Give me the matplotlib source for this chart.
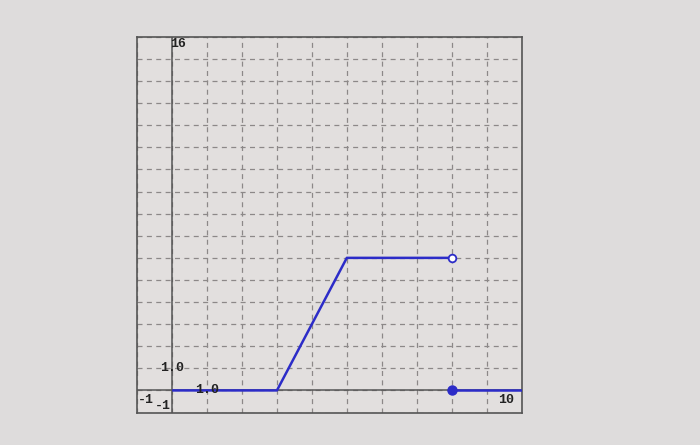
import matplotlib
matplotlib.use("Agg")
import matplotlib.pyplot as plt

# Data
piece1_x = [0, 3, 5, 8]
piece1_y = [0, 0, 6, 6]
piece2_x = [8, 10]
piece2_y = [0, 0]
open_pt = (8, 6)
closed_pt = (8, 0)
x_range = (-1, 10)
y_range = (-1, 16)

fig = plt.figure(figsize=(7, 4.45), dpi=100)
fig.patch.set_facecolor("#dedcdc")
ax = fig.add_axes([0.196, 0.073, 0.549, 0.844])
ax.set_facecolor("#e2dfde")
ax.set_xlim(*x_range)
ax.set_ylim(*y_range)

for s in ax.spines.values():
    s.set_color("#555555")
    s.set_linewidth(1.2)

ax.set_xticks(range(x_range[0], x_range[1] + 1))
ax.set_yticks(range(y_range[0], y_range[1] + 1))
ax.tick_params(length=0, labelbottom=False, labelleft=False)
ax.grid(True, color="#8c8888", linestyle=(0, (4, 3.5)), linewidth=0.9)

ax.axhline(0, color="#555555", lw=1.1, zorder=2)
ax.axvline(0, color="#555555", lw=1.1, zorder=2)

blue = "#2c2cc8"
ax.plot(piece1_x, piece1_y, color=blue, lw=1.8, zorder=3, solid_capstyle="butt")
ax.plot(piece2_x, piece2_y, color=blue, lw=1.8, zorder=3, solid_capstyle="butt")
ax.plot(*open_pt, marker="o", ms=5.5, mfc="white", mec=blue, mew=1.3, zorder=4)
ax.plot(*closed_pt, marker="o", ms=6.5, mfc=blue, mec=blue, zorder=4)

fk = dict(family="Liberation Mono", fontweight="bold", fontsize=9.5, color="#222222", zorder=5)
ax.text(-0.05, 15.95, "16", ha="left", va="top", **fk)
ax.text(0.0, 1.0, "1.0", ha="center", va="center", **fk)
ax.text(1.0, 0.0, "1.0", ha="center", va="center", **fk)
ax.text(-0.97, -0.15, "-1", ha="left", va="top", **fk)
ax.text(-0.05, -0.97, "-1", ha="right", va="bottom", **fk)
ax.text(9.8, -0.15, "10", ha="right", va="top", **fk)

fig.savefig("out.png", dpi=100, facecolor=fig.get_facecolor())
